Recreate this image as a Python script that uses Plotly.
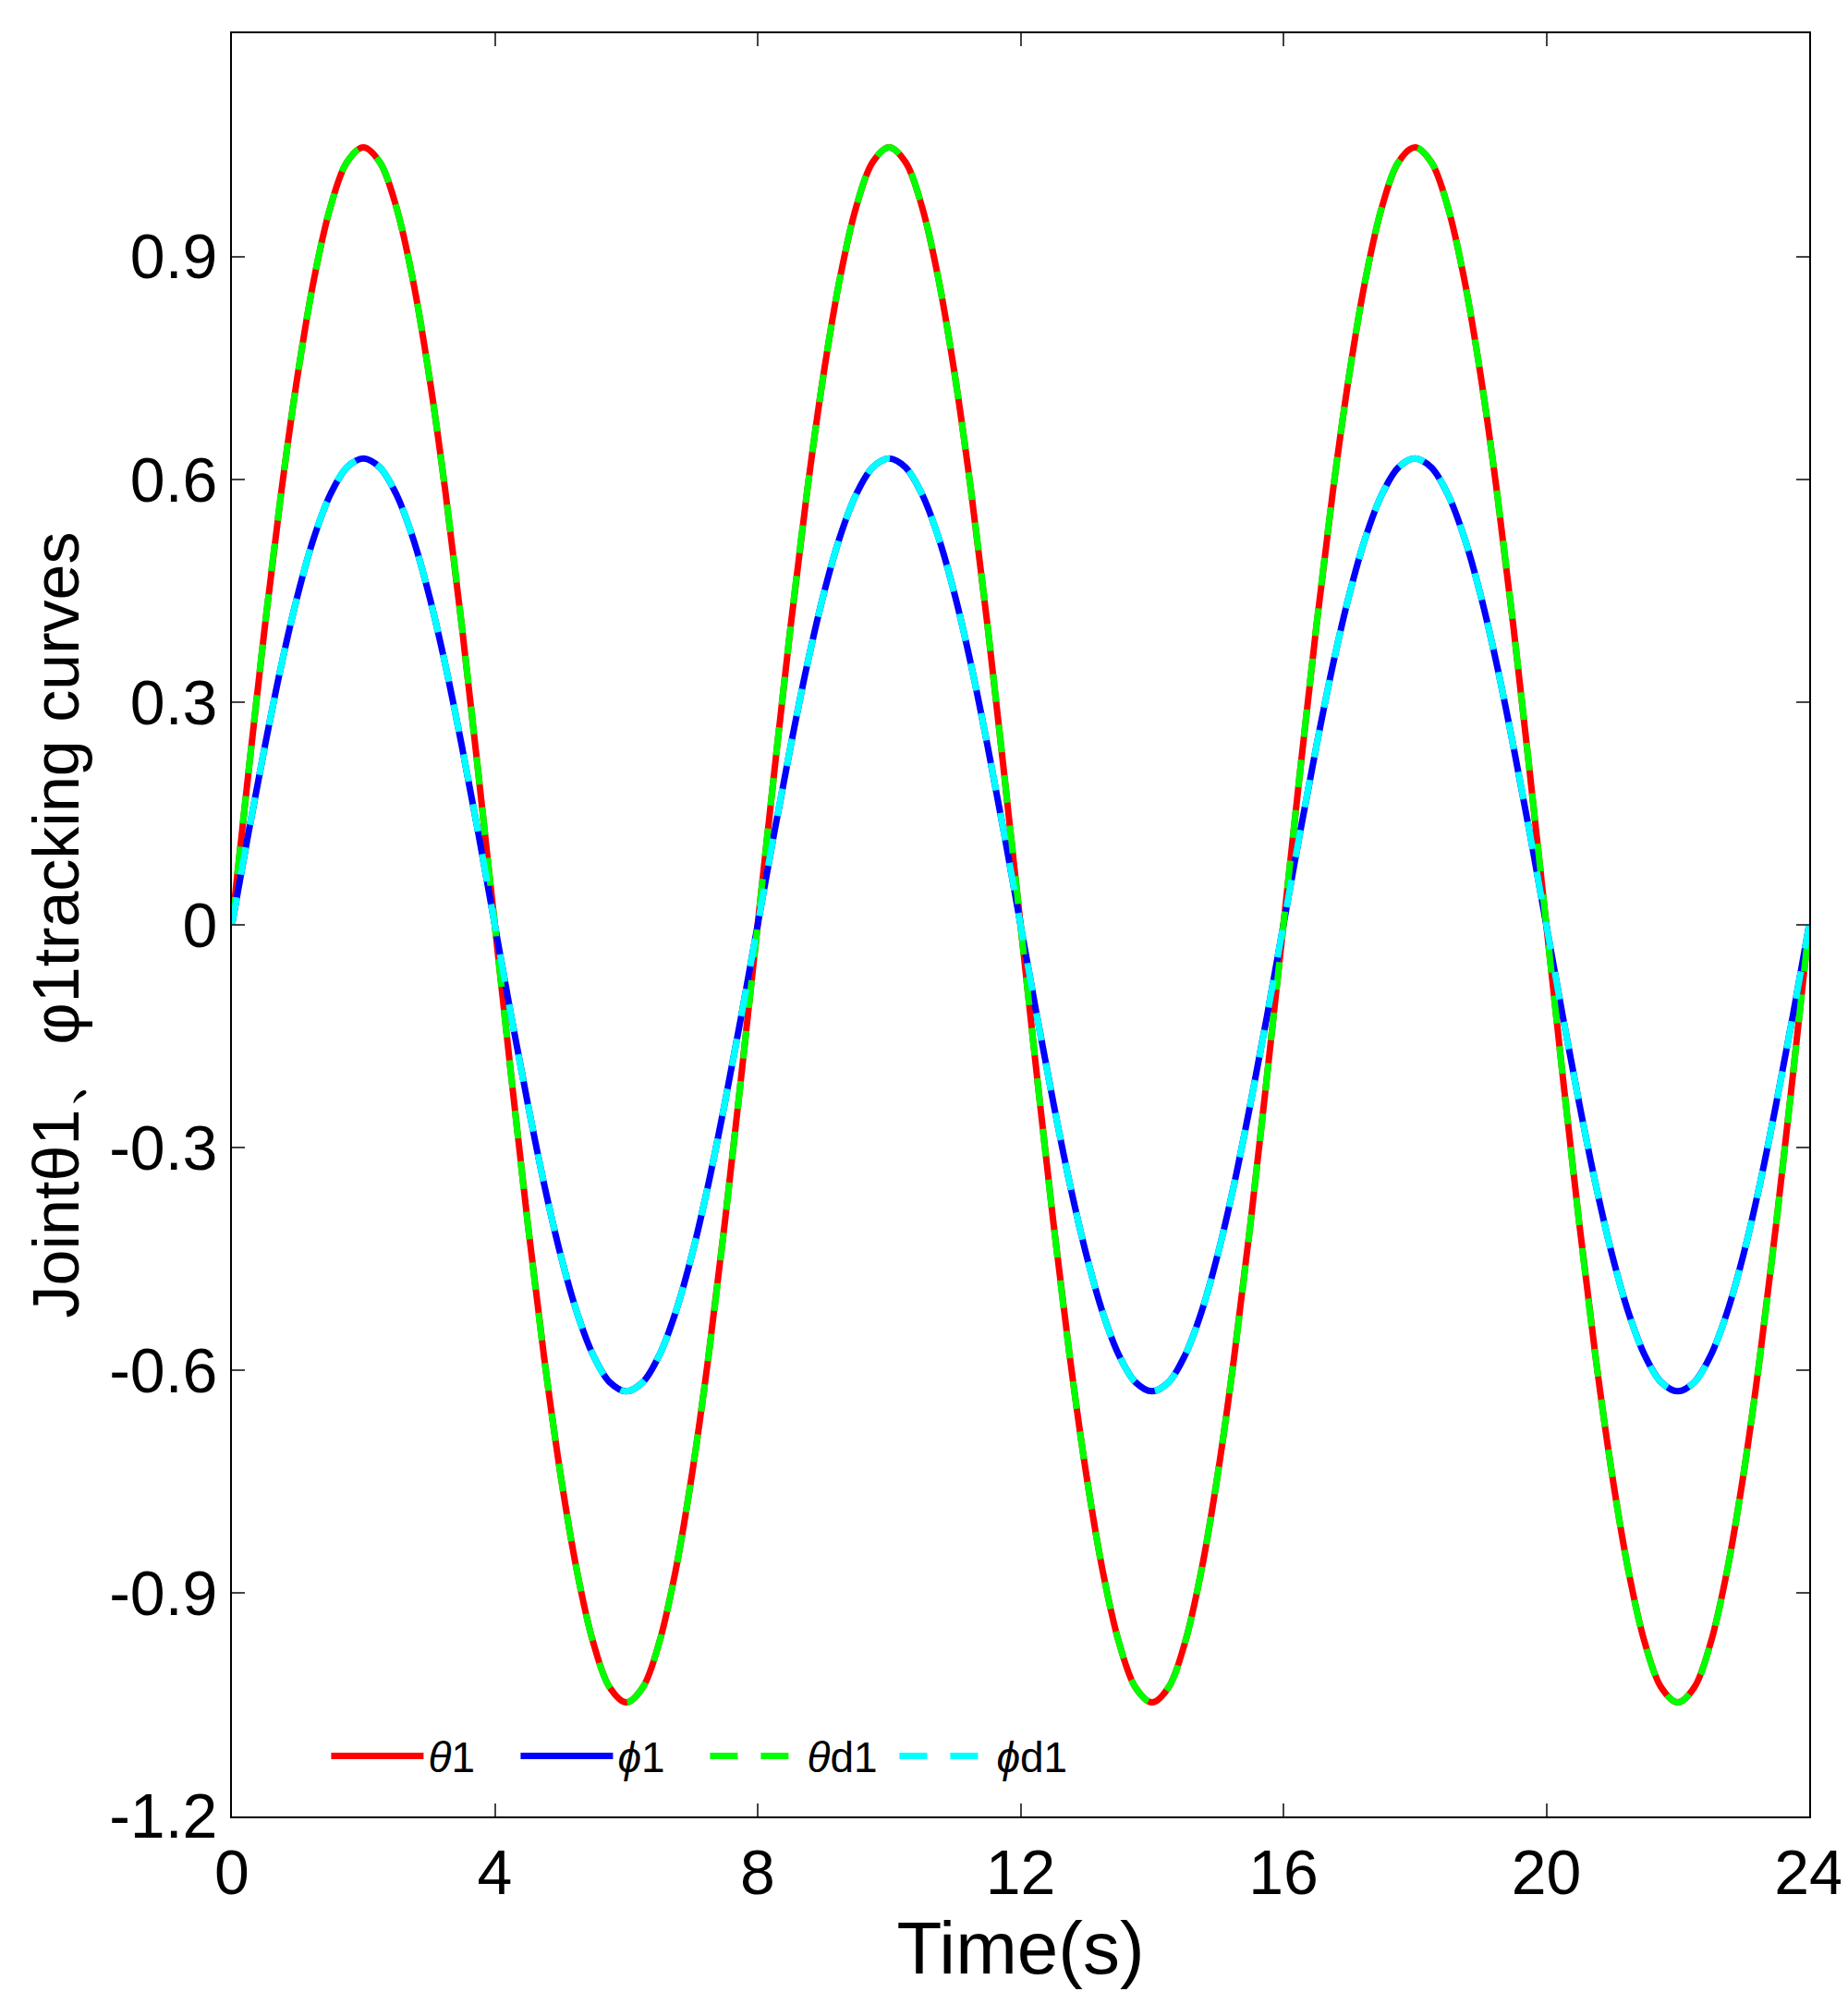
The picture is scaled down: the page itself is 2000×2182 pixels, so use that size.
import plotly.graph_objects as go

# sample times (s) and values
t = [i * 0.25 for i in range(97)]
theta_quarter = [0, 0.204, 0.401, 0.582, 0.740, 0.870, 0.967, 1.027, 1.047]
phi_quarter = [0, 0.123, 0.240, 0.349, 0.444, 0.522, 0.580, 0.616, 0.628]


def cycle(q):
    half = q + q[-2::-1][:-1]
    return half + [-v for v in half]


theta1 = cycle(theta_quarter) * 3 + [0]
phi1 = cycle(phi_quarter) * 3 + [0]
theta_d1 = list(theta1)
phi_d1 = list(phi1)

xticks = [0, 4, 8, 12, 16, 20, 24]
yticks = [-1.2, -0.9, -0.6, -0.3, 0, 0.3, 0.6, 0.9, 1.2]
ylabels = ['-1.2', '-0.9', '-0.6', '-0.3', '0', '0.3', '0.6', '0.9', '1.2']

fig = go.Figure()
fig.add_trace(go.Scatter(x=t, y=theta1, name='<i>θ</i>1', mode='lines', line_shape='spline',
                         line=dict(color='#ff0000', width=7)))
fig.add_trace(go.Scatter(x=t, y=phi1, name='<i>ϕ</i>1', mode='lines', line_shape='spline',
                         line=dict(color='#0000ff', width=7)))
fig.add_trace(go.Scatter(x=t, y=theta_d1, name='<i>θ</i>d1', mode='lines', line_shape='spline',
                         line=dict(color='#00ff00', width=7, dash='30px,25px')))
fig.add_trace(go.Scatter(x=t, y=phi_d1, name='<i>ϕ</i>d1', mode='lines', line_shape='spline',
                         line=dict(color='#00ffff', width=7, dash='30px,25px')))

axis_common = dict(showline=True, linecolor='black', linewidth=2, mirror='ticks',
                   ticks='inside', ticklen=14, tickwidth=2, showgrid=False, zeroline=False,
                   tickfont=dict(size=68, color='black'))
fig.update_xaxes(range=[0, 24], tickvals=xticks,
                 title=dict(text='Time(s)', font=dict(size=80, color='black'), standoff=5),
                 **axis_common)
fig.update_yaxes(range=[-1.2005, 1.2005], tickvals=yticks, ticktext=ylabels,
                 title=dict(text='Jointθ1、φ1tracking curves', font=dict(size=70, color='black'), standoff=10),
                 **axis_common)

fig.update_layout(
    width=2000, height=2182,
    paper_bgcolor='white', plot_bgcolor='white',
    font=dict(family='Arial, Liberation Sans, sans-serif', color='black'),
    margin=dict(l=243, r=46, t=28, b=224),
    legend=dict(orientation='h', x=0.06, y=0.015, xanchor='left', yanchor='bottom',
                bgcolor='rgba(0,0,0,0)', font=dict(size=46), itemwidth=100,
                entrywidthmode='pixels', entrywidth=90, tracegroupgap=0),
)

fig.write_html("out.html")
